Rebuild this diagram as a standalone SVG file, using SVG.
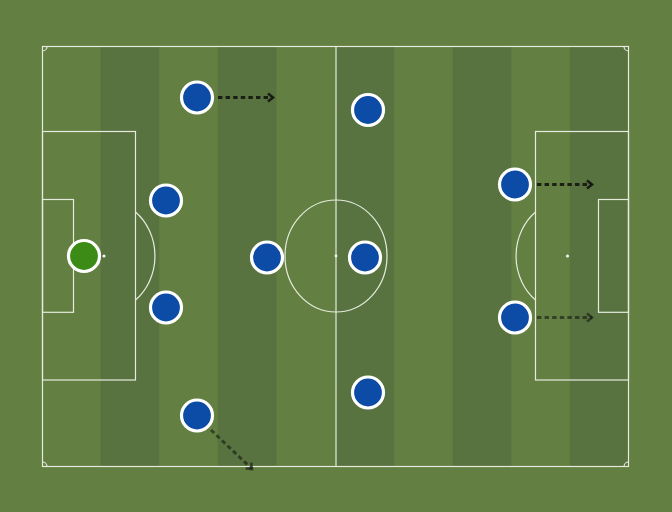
<svg xmlns="http://www.w3.org/2000/svg" width="672" height="512" viewBox="0 0 672 512">
<defs>
<style>
.line{fill:none;stroke:#e6ebdf;stroke-width:1.2}
.spot{fill:#f2f4ee}
.stripe{fill:#58733f}
.player{stroke:#ffffff;stroke-width:3.2}
.blue{fill:#0c4ba6}
.green{fill:#3b8b14}
.run{fill:none;stroke:#141810;stroke-width:3;stroke-dasharray:4.4 3.2}
.run.dark{stroke-opacity:0.92}
.run.light{stroke-opacity:0.6}
</style>
<marker id="chev" markerUnits="userSpaceOnUse" markerWidth="12" markerHeight="12" viewBox="0 0 12 12" refX="9" refY="6" orient="auto">
<path d="M4,2 L9,6 L4,10" fill="none" stroke="context-stroke" stroke-width="2.6"/>
</marker>
<marker id="chevd" markerUnits="userSpaceOnUse" markerWidth="12" markerHeight="12" viewBox="0 0 12 12" refX="9" refY="6" orient="auto">
<path d="M4,2 L9,6 L4,10" fill="none" stroke="#141810" stroke-opacity="0.92" stroke-width="2.6"/>
</marker>
<marker id="chevl" markerUnits="userSpaceOnUse" markerWidth="12" markerHeight="12" viewBox="0 0 12 12" refX="9" refY="6" orient="auto">
<path d="M4,2 L9,6 L4,10" fill="none" stroke="#141810" stroke-opacity="0.6" stroke-width="2.6"/>
</marker>
</defs>
<rect x="0" y="0" width="672" height="512" fill="#637f41"/>
<g id="pitch">
<rect class="stripe" x="100.6" y="46.5" width="58.6" height="420"/>
<rect class="stripe" x="217.8" y="46.5" width="58.6" height="420"/>
<rect class="stripe" x="335.5" y="46.5" width="58.6" height="420"/>
<rect class="stripe" x="452.7" y="46.5" width="58.6" height="420"/>
<rect class="stripe" x="569.9" y="46.5" width="58.6" height="420"/>
<rect class="line" x="42.5" y="46.5" width="586" height="420"/>
<line class="line" x1="336" y1="46.5" x2="336" y2="466.5"/>
<ellipse class="line" cx="336" cy="256" rx="51" ry="56"/>
<circle class="spot" cx="336" cy="256" r="1.4"/>
<rect class="line" x="42.5" y="131.5" width="93" height="248.5"/>
<rect class="line" x="42.5" y="199.5" width="31" height="112.8"/>
<circle class="spot" cx="104" cy="256" r="1.6"/>
<path class="line" d="M135.5,212 A51,56 0 0 1 135.5,300"/>
<rect class="line" x="535.5" y="131.5" width="93" height="248.5"/>
<rect class="line" x="598.5" y="199.5" width="30" height="112.8"/>
<circle class="spot" cx="567.5" cy="256" r="1.6"/>
<path class="line" d="M535.5,212 A51,56 0 0 0 535.5,300"/>
<path class="line" d="M42.5,51 A4.5,4.5 0 0 0 47,46.5"/>
<path class="line" d="M624,46.5 A4.5,4.5 0 0 0 628.5,51"/>
<path class="line" d="M42.5,462 A4.5,4.5 0 0 1 47,466.5"/>
<path class="line" d="M624,466.5 A4.5,4.5 0 0 1 628.5,462"/>
</g>
<g id="connectors">
<line class="run dark" x1="218" y1="97.5" x2="273" y2="97.5" marker-end="url(#chevd)"/>
<line class="run dark" x1="537" y1="184.5" x2="592" y2="184.5" marker-end="url(#chevd)"/>
<line class="run light" x1="537" y1="317.5" x2="592" y2="317.5" marker-end="url(#chevl)"/>
<line class="run light" x1="211" y1="430" x2="252" y2="469" marker-end="url(#chevl)"/>
</g>
<g id="gk"><circle class="player green" cx="84" cy="256" r="15.5"/></g>
<g id="p1"><circle class="player blue" cx="197" cy="97.5" r="15.5"/></g>
<g id="p2"><circle class="player blue" cx="166" cy="200.5" r="15.5"/></g>
<g id="p3"><circle class="player blue" cx="166" cy="307.5" r="15.5"/></g>
<g id="p4"><circle class="player blue" cx="197" cy="415.5" r="15.5"/></g>
<g id="p5"><circle class="player blue" cx="267" cy="257.5" r="15.5"/></g>
<g id="p6"><circle class="player blue" cx="368" cy="110" r="15.5"/></g>
<g id="p7"><circle class="player blue" cx="365" cy="257.5" r="15.5"/></g>
<g id="p8"><circle class="player blue" cx="368" cy="392.5" r="15.5"/></g>
<g id="p9"><circle class="player blue" cx="515" cy="184.5" r="15.5"/></g>
<g id="p10"><circle class="player blue" cx="515" cy="317.5" r="15.5"/></g>
</svg>
